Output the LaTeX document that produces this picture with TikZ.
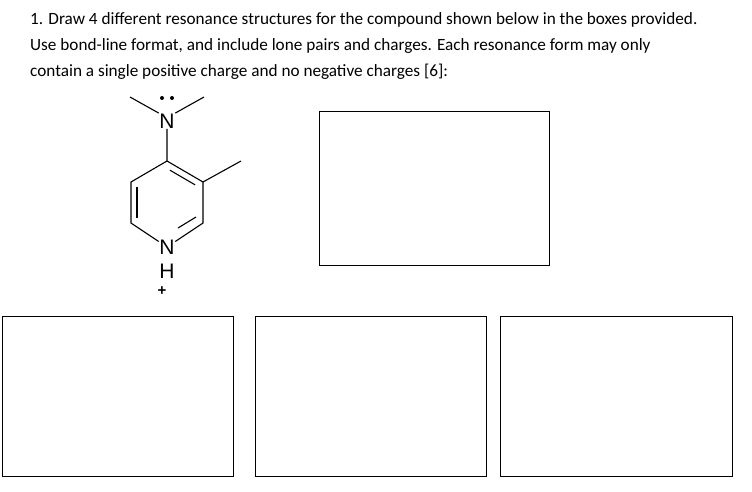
\documentclass[tikz,border=0pt]{standalone}
\usetikzlibrary{calc}
\usepackage{fontspec}
\setmainfont{Carlito}
\newfontfamily\arialf{Liberation Sans}
\begin{document}
\begin{tikzpicture}[x=1pt,y=-1pt,
  txt/.style={anchor=west,inner sep=0,font=\fontsize{17.2}{19}\selectfont},
  answerbox/.style={draw,line width=0.6pt},
  atom/.style={inner sep=0.5pt,font=\arialf\fontsize{21}{22}\selectfont},
  bond/.style={line width=1.1pt}]
\useasboundingbox (0,0) rectangle (752,491);
\node[txt] (t1) at (30,20) {1. Draw 4 different resonance structures for the compound shown below in the boxes provided.};
\node[txt] (t2) at (30,46) {Use bond-line format, and include lone pairs and charges. Each resonance form may only};
\node[txt] (t3) at (30,72) {contain a single positive charge and no negative charges [6]:};
\draw[answerbox] (319,111) rectangle (549,265);
\draw[answerbox] (2,316) rectangle (233,476);
\draw[answerbox] (255,316) rectangle (486,476);
\draw[answerbox] (500,316) rectangle (732,476);
% molecule
\node[atom] (Na) at (167,121) {N};
\node[atom] (N1) at (167,247) {N};
\node[atom] (H) at (167,271) {H};
\node[inner sep=0,font=\arialf\bfseries\fontsize{15}{15}\selectfont] (plus) at (162,291) {+};
\fill (162,98) circle (2) (172,98) circle (2);
\coordinate (M1) at (130,97);
\coordinate (M2) at (204,97);
\coordinate (C4) at (167,161);
\coordinate (C3) at (203,182);
\coordinate (C2) at (203,223);
\coordinate (C6) at (131,223);
\coordinate (C5) at (131,182);
\coordinate (Me) at (241,161);
\draw[bond] (M1) -- (Na.north west);
\draw[bond] (M2) -- (Na.north east);
\draw[bond] (Na) -- (C4) -- (C3) -- (C2) -- (N1) -- (C6) -- (C5) -- (C4);
\draw[bond] (C3) -- (Me);
\draw[bond] ($(C4)!0.15!(C3)+(-2.5,6)$) -- ($(C4)!0.85!(C3)+(-2.5,6)$);
\draw[bond] (137,187) -- (137,218);
\draw[bond] (196,217) -- (178,228);
\end{tikzpicture}
\end{document}
